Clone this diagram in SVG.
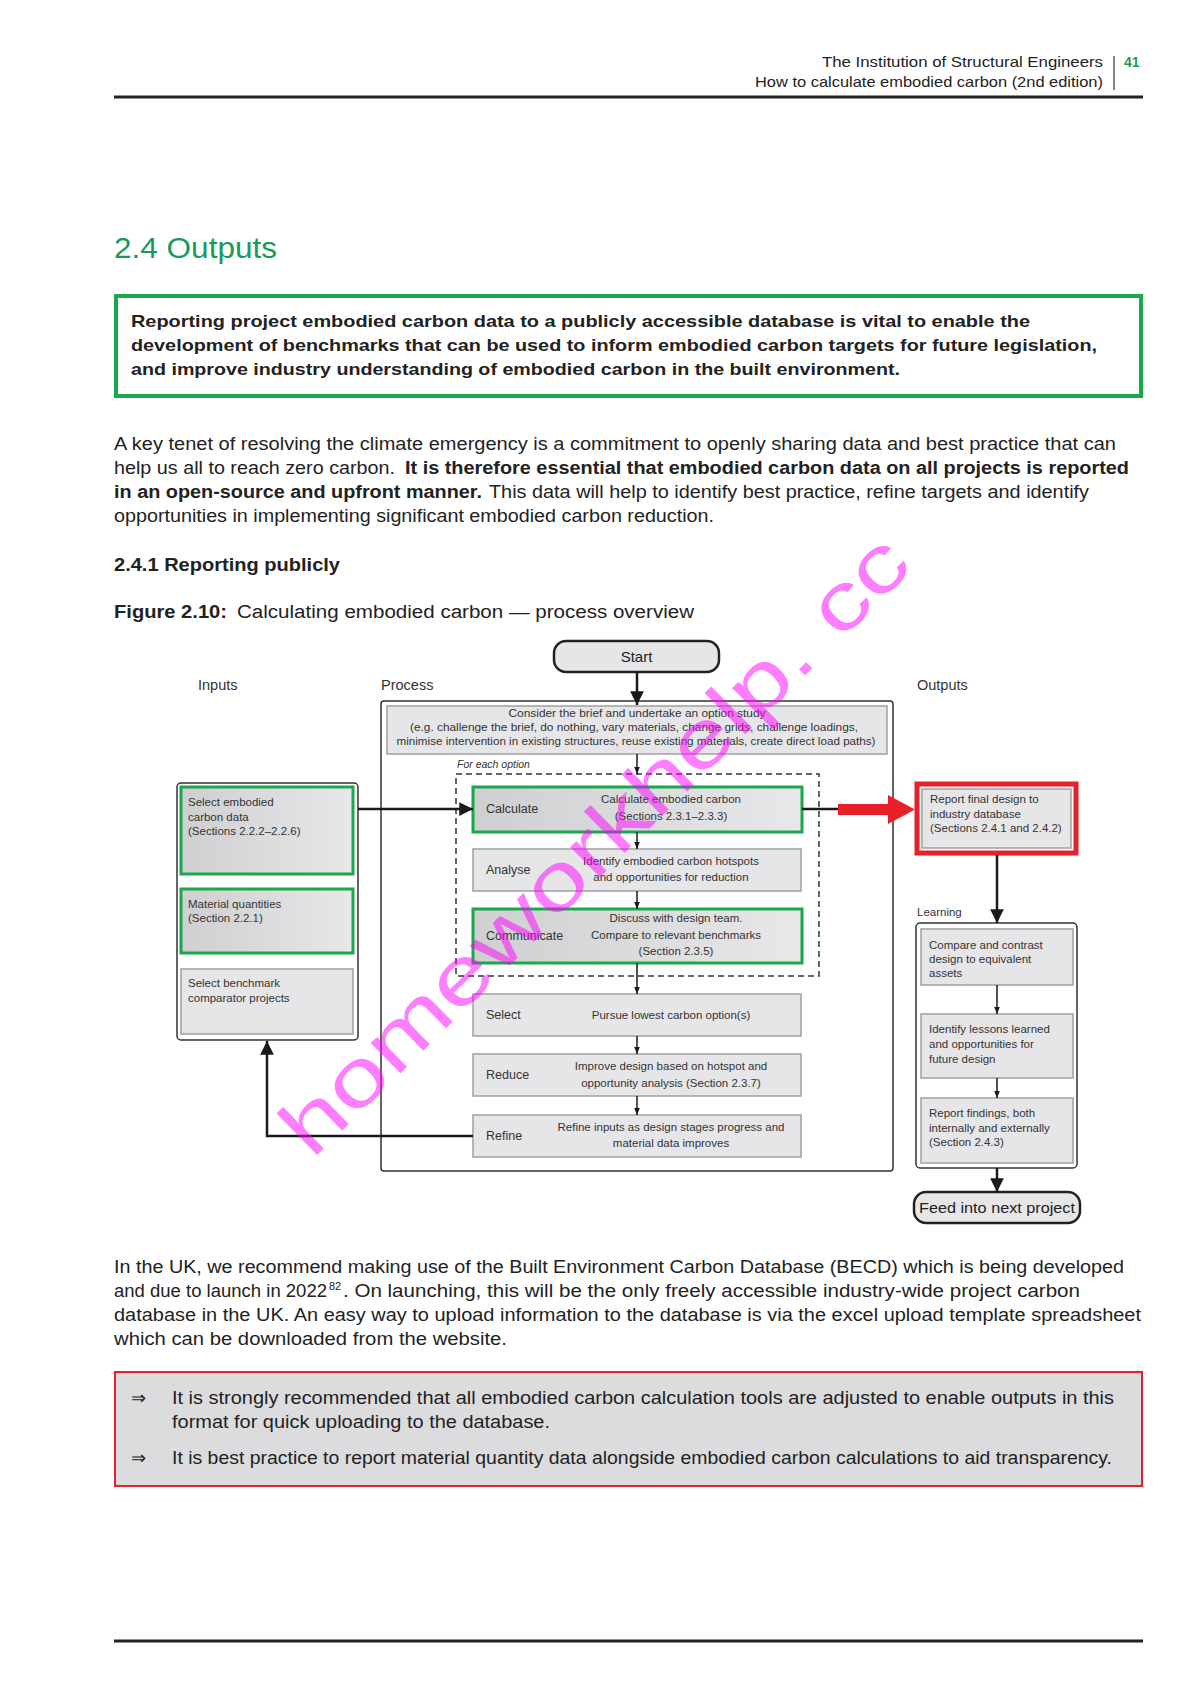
<svg xmlns="http://www.w3.org/2000/svg" width="1200" height="1696" viewBox="0 0 1200 1696">
<style>
.t{font-family:"Liberation Sans",Arial,sans-serif;fill:#222}
.b{font-weight:bold}
.d{font-family:"Liberation Sans",Arial,sans-serif;fill:#333;font-size:11.5px}
.dc{font-family:"Liberation Sans",Arial,sans-serif;fill:#333;font-size:11.5px;text-anchor:middle}
.dt{font-family:"Liberation Sans",Arial,sans-serif;fill:#333;font-size:10.5px;text-anchor:middle}
.lbl{font-family:"Liberation Sans",Arial,sans-serif;fill:#333;font-size:12.5px}
.col{font-family:"Liberation Sans",Arial,sans-serif;fill:#333;font-size:14.5px}
.hd{font-family:"Liberation Sans",Arial,sans-serif;fill:#222;font-size:15px}
.gbox{fill:url(#gg);stroke:#19a84b;stroke-width:3}
.box{fill:#e6e6e8;stroke:#a0a0a0;stroke-width:1.5}
.frame{fill:#fff;stroke:#333;stroke-width:1.5}
.term{fill:#e6e6e8;stroke:#222;stroke-width:2.5}
.thick{stroke:#1a1a1a;stroke-width:2.5;fill:none}
.thin{stroke:#1a1a1a;stroke-width:1.5;fill:none}
</style>
<defs>
<linearGradient id="gg" x1="0" y1="0" x2="1" y2="0">
<stop offset="0" stop-color="#cfcfd2"/>
<stop offset="1" stop-color="#e8e8ea"/>
</linearGradient>
<marker id="big" viewBox="0 0 10 10" refX="10" refY="5" markerWidth="5.5" markerHeight="5.5" orient="auto" markerUnits="strokeWidth">
<path d="M0,0 L10,5 L0,10 z" fill="#1a1a1a"/>
</marker>
<marker id="sm" viewBox="0 0 10 10" refX="10" refY="5" markerWidth="5" markerHeight="5" orient="auto" markerUnits="strokeWidth">
<path d="M0,1 L10,5 L0,9 z" fill="#1a1a1a"/>
</marker>
</defs>
<rect width="1200" height="1696" fill="#fff"/>

<!-- header -->
<g id="header">
<text class="hd" x="1103" y="67" text-anchor="end" textLength="281" lengthAdjust="spacingAndGlyphs">The Institution of Structural Engineers</text>
<text class="hd" x="1103" y="87" text-anchor="end" textLength="348" lengthAdjust="spacingAndGlyphs">How to calculate embodied carbon (2nd edition)</text>
<line x1="1114" y1="56" x2="1114" y2="90" stroke="#333" stroke-width="1.2"/>
<text x="1124" y="67" font-family="Liberation Sans, Arial, sans-serif" font-size="14" font-weight="bold" fill="#1a9a5a">41</text>
<line x1="114" y1="97" x2="1143" y2="97" stroke="#222" stroke-width="3"/>
</g>

<text x="114" y="258" font-family="Liberation Sans, Arial, sans-serif" font-size="29" fill="#1a9a5a" textLength="163" lengthAdjust="spacingAndGlyphs">2.4 Outputs</text>

<g id="keybox">
<rect x="116" y="296" width="1025" height="100" fill="#fff" stroke="#19a84b" stroke-width="4"/>
<text class="t b" x="131" y="327" font-size="17" textLength="899" lengthAdjust="spacingAndGlyphs">Reporting project embodied carbon data to a publicly accessible database is vital to enable the</text>
<text class="t b" x="131" y="351" font-size="17" textLength="966" lengthAdjust="spacingAndGlyphs">development of benchmarks that can be used to inform embodied carbon targets for future legislation,</text>
<text class="t b" x="131" y="375" font-size="17" textLength="769" lengthAdjust="spacingAndGlyphs">and improve industry understanding of embodied carbon in the built environment.</text>
</g>

<g id="para1" font-size="17.5">
<text class="t" x="114" y="450" textLength="1002" lengthAdjust="spacingAndGlyphs">A key tenet of resolving the climate emergency is a commitment to openly sharing data and best practice that can</text>
<text class="t" x="114" y="474" textLength="281" lengthAdjust="spacingAndGlyphs">help us all to reach zero carbon.</text>
<text class="t b" x="405" y="474" textLength="724" lengthAdjust="spacingAndGlyphs">It is therefore essential that embodied carbon data on all projects is reported</text>
<text class="t b" x="114" y="498" textLength="368" lengthAdjust="spacingAndGlyphs">in an open-source and upfront manner.</text>
<text class="t" x="489" y="498" textLength="600" lengthAdjust="spacingAndGlyphs">This data will help to identify best practice, refine targets and identify</text>
<text class="t" x="114" y="522" textLength="600" lengthAdjust="spacingAndGlyphs">opportunities in implementing significant embodied carbon reduction.</text>
</g>

<text class="t b" x="114" y="571" font-size="18" textLength="226" lengthAdjust="spacingAndGlyphs">2.4.1 Reporting publicly</text>
<text class="t b" x="114" y="618" font-size="18" textLength="113" lengthAdjust="spacingAndGlyphs">Figure 2.10:</text>
<text class="t" x="237" y="618" font-size="18" textLength="457" lengthAdjust="spacingAndGlyphs">Calculating embodied carbon — process overview</text>

<!-- diagram labels -->
<text class="col" x="198" y="690">Inputs</text>
<text class="col" x="381" y="690">Process</text>
<text class="col" x="917" y="690">Outputs</text>

<!-- frames -->
<rect id="process-frame" class="frame" x="381" y="701" width="512" height="470" rx="3"/>
<rect id="inputs-frame" class="frame" x="177" y="783" width="181" height="257" rx="4"/>
<rect id="learning-frame" class="frame" x="916" y="923" width="161" height="245" rx="4"/>
<rect id="option-loop" x="456" y="774" width="363" height="202" fill="none" stroke="#333" stroke-width="1.5" stroke-dasharray="6,4"/>
<text x="457" y="768" font-family="Liberation Sans, Arial, sans-serif" font-size="10.5" font-style="italic" fill="#333">For each option</text>
<text class="d" x="917" y="916">Learning</text>

<g id="start">
<rect class="term" x="554" y="641" width="165" height="31" rx="12"/>
<text x="636.5" y="662" font-family="Liberation Sans, Arial, sans-serif" font-size="15" fill="#222" text-anchor="middle">Start</text>
</g>

<g id="consider">
<rect class="box" x="387" y="706" width="500" height="48"/>
<text class="dt" x="637" y="717" textLength="257" lengthAdjust="spacingAndGlyphs">Consider the brief and undertake an option study</text>
<text class="dt" x="634" y="731" textLength="448" lengthAdjust="spacingAndGlyphs">(e.g. challenge the brief, do nothing, vary materials, change grids, challenge loadings,</text>
<text class="dt" x="636" y="745" textLength="479" lengthAdjust="spacingAndGlyphs">minimise intervention in existing structures, reuse existing materials, create direct load paths)</text>
</g>

<g id="calculate">
<rect class="gbox" x="473" y="787" width="329" height="45"/>
<text class="lbl" x="486" y="813">Calculate</text>
<text class="dc" x="671" y="803">Calculate embodied carbon</text>
<text class="dc" x="671" y="820">(Sections 2.3.1–2.3.3)</text>
</g>

<g id="analyse">
<rect class="box" x="473" y="849" width="328" height="42"/>
<text class="lbl" x="486" y="874">Analyse</text>
<text class="dc" x="671" y="865">Identify embodied carbon hotspots</text>
<text class="dc" x="671" y="881">and opportunities for reduction</text>
</g>

<g id="communicate">
<rect class="gbox" x="473" y="909" width="329" height="54"/>
<text class="lbl" x="486" y="940">Communicate</text>
<text class="dc" x="676" y="922">Discuss with design team.</text>
<text class="dc" x="676" y="939">Compare to relevant benchmarks</text>
<text class="dc" x="676" y="955">(Section 2.3.5)</text>
</g>

<g id="select">
<rect class="box" x="473" y="994" width="328" height="42"/>
<text class="lbl" x="486" y="1019">Select</text>
<text class="dc" x="671" y="1019">Pursue lowest carbon option(s)</text>
</g>

<g id="reduce">
<rect class="box" x="473" y="1054" width="328" height="42"/>
<text class="lbl" x="486" y="1079">Reduce</text>
<text class="dc" x="671" y="1070">Improve design based on hotspot and</text>
<text class="dc" x="671" y="1087">opportunity analysis (Section 2.3.7)</text>
</g>

<g id="refine">
<rect class="box" x="473" y="1115" width="328" height="42"/>
<text class="lbl" x="486" y="1140">Refine</text>
<text class="dc" x="671" y="1131">Refine inputs as design stages progress and</text>
<text class="dc" x="671" y="1147">material data improves</text>
</g>

<g id="input-carbon-data">
<rect class="gbox" x="181" y="787" width="172" height="87"/>
<text class="d" x="188" y="806">Select embodied</text>
<text class="d" x="188" y="821">carbon data</text>
<text class="d" x="188" y="835">(Sections 2.2.2–2.2.6)</text>
</g>
<g id="input-quantities">
<rect class="gbox" x="181" y="889" width="172" height="64"/>
<text class="d" x="188" y="908">Material quantities</text>
<text class="d" x="188" y="922">(Section 2.2.1)</text>
</g>
<g id="input-benchmark">
<rect class="box" x="181" y="969" width="172" height="65"/>
<text class="d" x="188" y="987">Select benchmark</text>
<text class="d" x="188" y="1002">comparator projects</text>
</g>

<g id="report-final">
<rect x="917" y="784" width="159" height="69" fill="none" stroke="#e8202a" stroke-width="5"/>
<rect class="box" x="922" y="789" width="149" height="59"/>
<text class="d" x="930" y="803">Report final design to</text>
<text class="d" x="930" y="818">industry database</text>
<text class="d" x="930" y="832">(Sections 2.4.1 and 2.4.2)</text>
</g>

<g id="compare">
<rect class="box" x="921" y="929" width="152" height="56"/>
<text class="d" x="929" y="949">Compare and contrast</text>
<text class="d" x="929" y="963">design to equivalent</text>
<text class="d" x="929" y="977">assets</text>
</g>
<g id="lessons">
<rect class="box" x="921" y="1014" width="152" height="64"/>
<text class="d" x="929" y="1033">Identify lessons learned</text>
<text class="d" x="929" y="1048">and opportunities for</text>
<text class="d" x="929" y="1063">future design</text>
</g>
<g id="report-findings">
<rect class="box" x="921" y="1098" width="152" height="65"/>
<text class="d" x="929" y="1117">Report findings, both</text>
<text class="d" x="929" y="1132">internally and externally</text>
<text class="d" x="929" y="1146">(Section 2.4.3)</text>
</g>

<g id="feed">
<rect class="term" x="914" y="1192" width="166" height="31" rx="12"/>
<text x="997" y="1213" font-family="Liberation Sans, Arial, sans-serif" font-size="15" fill="#222" text-anchor="middle" textLength="156" lengthAdjust="spacingAndGlyphs">Feed into next project</text>
</g>

<g id="connectors">
<line class="thick" x1="637" y1="672" x2="637" y2="705" marker-end="url(#big)"/>
<line class="thin" x1="637" y1="754" x2="637" y2="774" marker-end="url(#sm)"/>
<line class="thin" x1="637" y1="832" x2="637" y2="849" marker-end="url(#sm)"/>
<line class="thin" x1="637" y1="891" x2="637" y2="909" marker-end="url(#sm)"/>
<line class="thin" x1="637" y1="963" x2="637" y2="994" marker-end="url(#sm)"/>
<line class="thin" x1="637" y1="1036" x2="637" y2="1054" marker-end="url(#sm)"/>
<line class="thin" x1="637" y1="1096" x2="637" y2="1115" marker-end="url(#sm)"/>
<line class="thick" x1="358" y1="809" x2="473" y2="809" marker-end="url(#big)"/>
<line class="thick" x1="802" y1="809" x2="840" y2="809"/>
<polygon points="838,804 888,804 888,795 915,809.5 888,824 888,815 838,815" fill="#e8202a"/>
<line class="thick" x1="997" y1="855" x2="997" y2="923" marker-end="url(#big)"/>
<line class="thin" x1="997" y1="985" x2="997" y2="1014" marker-end="url(#sm)"/>
<line class="thin" x1="997" y1="1078" x2="997" y2="1098" marker-end="url(#sm)"/>
<line class="thick" x1="997" y1="1168" x2="997" y2="1192" marker-end="url(#big)"/>
<polyline class="thick" points="473,1136 267,1136 267,1041" marker-end="url(#big)"/>
</g>

<g id="para2" font-size="17.5">
<text class="t" x="114" y="1273" textLength="1010" lengthAdjust="spacingAndGlyphs">In the UK, we recommend making use of the Built Environment Carbon Database (BECD) which is being developed</text>
<text class="t" x="114" y="1297" textLength="213" lengthAdjust="spacingAndGlyphs">and due to launch in 2022</text>
<text class="t" x="329" y="1290" font-size="11">82</text>
<text class="t" x="343" y="1297" textLength="737" lengthAdjust="spacingAndGlyphs">. On launching, this will be the only freely accessible industry-wide project carbon</text>
<text class="t" x="114" y="1321" textLength="1027" lengthAdjust="spacingAndGlyphs">database in the UK. An easy way to upload information to the database is via the excel upload template spreadsheet</text>
<text class="t" x="114" y="1345" textLength="393" lengthAdjust="spacingAndGlyphs">which can be downloaded from the website.</text>
</g>

<g id="recommend" font-size="17.5">
<rect x="115" y="1372" width="1027" height="114" fill="#dcdcdf" stroke="#e8202a" stroke-width="2"/>
<text class="t" x="131" y="1404">⇒</text>
<text class="t" x="172" y="1404" textLength="942" lengthAdjust="spacingAndGlyphs">It is strongly recommended that all embodied carbon calculation tools are adjusted to enable outputs in this</text>
<text class="t" x="172" y="1428" textLength="378" lengthAdjust="spacingAndGlyphs">format for quick uploading to the database.</text>
<text class="t" x="131" y="1464">⇒</text>
<text class="t" x="172" y="1464" textLength="940" lengthAdjust="spacingAndGlyphs">It is best practice to report material quantity data alongside embodied carbon calculations to aid transparency.</text>
</g>

<line x1="114" y1="1641" x2="1143" y2="1641" stroke="#222" stroke-width="3"/>

<text x="0" y="0" transform="translate(312,1160) rotate(-44.5)" font-family="Liberation Sans, Arial, sans-serif" font-size="80" fill="#ff00ff" opacity="0.5" textLength="845" lengthAdjust="spacingAndGlyphs">homeworkhelp. cc</text>
</svg>
